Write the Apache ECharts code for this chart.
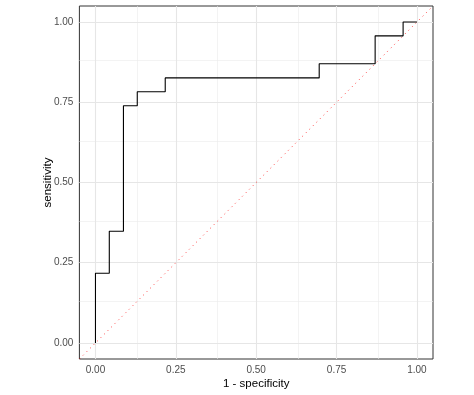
<!DOCTYPE html>
<html>
<head>
<meta charset="utf-8">
<script src="https://cdn.jsdelivr.net/npm/echarts@6/dist/echarts.min.js"></script>
<style>
html,body{margin:0;padding:0;background:#fff;}
#c{width:474px;height:395px;}
</style>
</head>
<body>
<div id="c"></div>
<script>
// ROC curve vertices (step: horizontal then vertical)
var fpr = [0, 0, 0.043, 0.087, 0.130, 0.217, 0.696, 0.870, 0.957, 1];
var tpr = [0, 0.217, 0.348, 0.739, 0.783, 0.826, 0.870, 0.957, 1, 1];
// reference diagonal y = x across the full axis range
var diagX = [-0.05, 1.05];
// axis ticks
var majorTicks = [0, 0.25, 0.5, 0.75, 1];
var minorTicks = [0.125, 0.375, 0.625, 0.875];
var axisMin = -0.05, axisMax = 1.05;

var FONT = 'Liberation Sans, Arial, sans-serif';
var chart = echarts.init(document.getElementById('c'), null, {renderer: 'canvas'});

var gridLines = [];
minorTicks.forEach(function (v) {
  gridLines.push({xAxis: v, lineStyle: {color: '#EBEBEB', width: 0.6, type: 'solid'}});
  gridLines.push({yAxis: v, lineStyle: {color: '#EBEBEB', width: 0.6, type: 'solid'}});
});
majorTicks.forEach(function (v) {
  gridLines.push({xAxis: v, lineStyle: {color: '#E6E6E6', width: 1.1, type: 'solid'}});
  gridLines.push({yAxis: v, lineStyle: {color: '#E6E6E6', width: 1.1, type: 'solid'}});
});

var axisCommon = {
  type: 'value',
  min: axisMin,
  max: axisMax,
  axisLine: {show: false},
  splitLine: {show: false},
  axisTick: {show: true, customValues: majorTicks, length: 4, lineStyle: {color: '#333333', width: 1}},
  axisLabel: {
    customValues: majorTicks,
    color: '#4D4D4D',
    fontSize: 10,
    fontFamily: FONT,
    margin: 6,
    formatter: function (v) { return v.toFixed(2); }
  },
  nameLocation: 'middle',
  nameMoveOverlap: false,
  nameTextStyle: {color: '#000', fontSize: 11.5, fontFamily: FONT}
};

var option = {
  animation: false,
  backgroundColor: '#fff',
  grid: {
    left: 79.4, right: 41, top: 6, bottom: 36,
    show: true, borderColor: '#333333', borderWidth: 1, backgroundColor: '#fff'
  },
  xAxis: Object.assign({}, axisCommon, {name: '1 - specificity', nameGap: 19}),
  yAxis: Object.assign({}, axisCommon, {name: 'sensitivity', nameGap: 25.5}),
  series: [
    {
      type: 'line',
      data: [],
      silent: true,
      z: 1,
      markLine: {
        silent: true,
        z: 1,
        symbol: ['none', 'none'],
        label: {show: false},
        animation: false,
        data: gridLines
      }
    },
    {
      type: 'line',
      data: diagX.map(function (v) { return [v, v]; }),
      showSymbol: false,
      symbol: 'none',
      silent: true,
      z: 6,
      lineStyle: {color: 'rgba(255,0,0,0.75)', width: 1, type: [1, 4]}
    },
    {
      type: 'line',
      step: 'end',
      data: fpr.map(function (x, i) { return [x, tpr[i]]; }),
      showSymbol: false,
      symbol: 'none',
      silent: true,
      z: 7,
      lineStyle: {color: '#000000', width: 1.1}
    }
  ]
};
chart.setOption(option);
</script>
</body>
</html>
